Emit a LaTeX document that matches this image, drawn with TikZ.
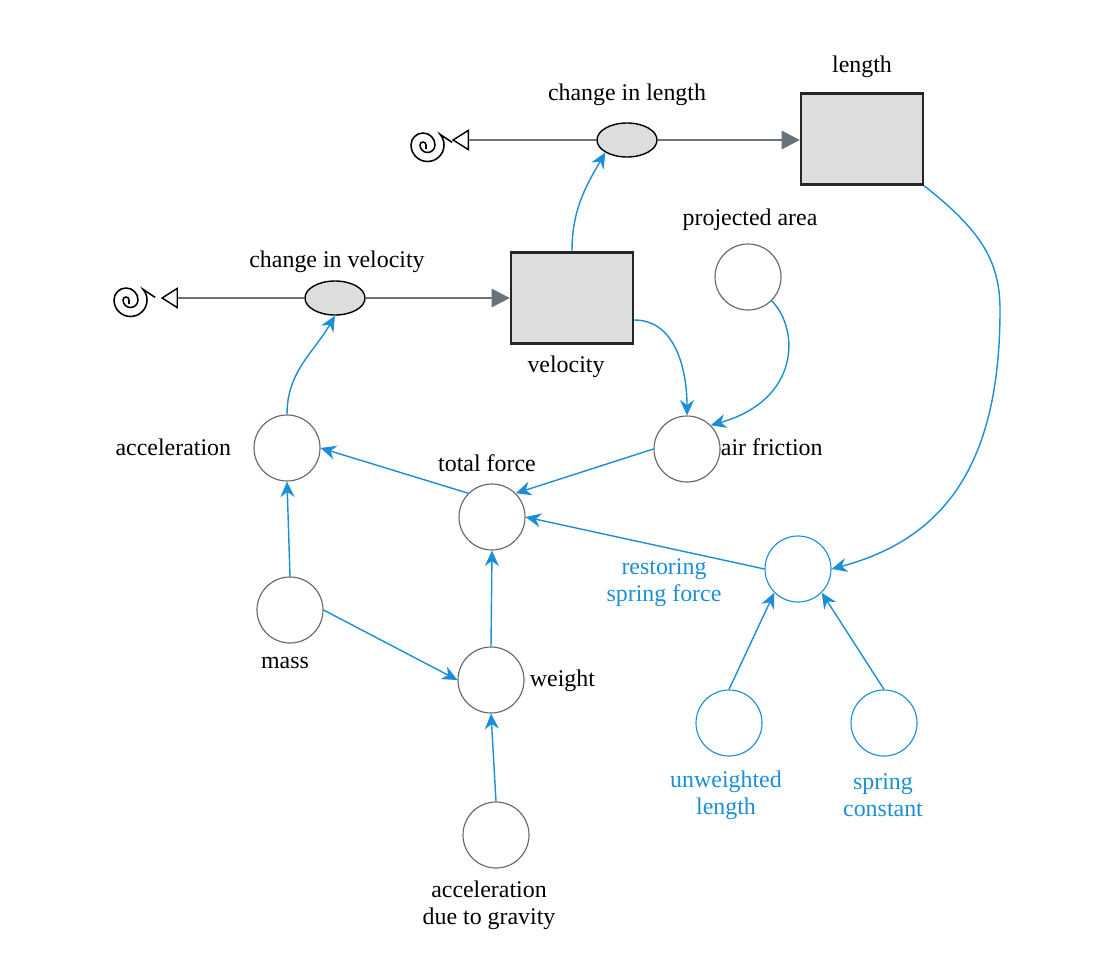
\documentclass[tikz,border=0pt]{standalone}
\usepackage{fontspec}
\setmainfont{Liberation Serif}
\usetikzlibrary{arrows.meta,shapes.geometric}
\definecolor{lnk}{HTML}{1A8FD8}
\definecolor{flw}{HTML}{6A737B}
\definecolor{stk}{HTML}{DCDEDD}
\begin{document}
\begin{tikzpicture}[x=0.025cm,y=-0.025cm,
  font=\fontsize{17}{19}\selectfont,
  aux/.style={circle,draw=black!60,line width=0.8pt,minimum size=1.65cm,inner sep=0pt},
  bux/.style={aux,draw=lnk},
  stock/.style={rectangle,draw=black!85,line width=1.6pt,fill=stk,minimum width=3.05cm,minimum height=2.28cm},
  rate/.style={ellipse,draw=black,line width=1pt,fill=stk,minimum width=1.5cm,minimum height=0.85cm,inner sep=0pt},
  flow/.style={draw=flw,line width=1.8pt},
  src/.style={isosceles triangle,shape border rotate=180,draw=black,line width=1pt,fill=white,minimum height=0.38cm,minimum width=0.48cm,inner sep=0pt,isosceles triangle stretches},
  link/.style={draw=lnk,line width=1pt,-{Stealth[length=11pt,width=10pt]}},
  blab/.style={text=lnk,align=center}]
\useasboundingbox (0,0) rectangle (1102,965);
% stocks and rates
\node[stock] (len) at (862,139) {};
\node at (862,67) {length};
\node[stock] (vel) at (572,298) {};
\node at (566,367) {velocity};
\node[rate] (dl) at (627,140) {};
\node at (627,95) {change in length};
\node[rate] (dv) at (335,298) {};
\node at (337,262) {change in velocity};
% clouds (spirals)
\foreach \cx/\cy in {423/146,126/301}{
  \begin{scope}[shift={(\cx,\cy)},yscale=-1]
    \draw[line width=1.1pt] (3,-3) -- (3,1) arc[start angle=0,end angle=180,radius=3]
       arc[start angle=180,end angle=360,radius=7.5] arc[start angle=0,end angle=180,radius=12]
       arc[start angle=180,end angle=400,radius=16.5] -- ++(12,-8);
  \end{scope}
}
\node[src] (t1) at (463,140) {};
\node[src] (t2) at (172,298) {};
\draw[flow] (t1.east) -- (dl);
\draw[flow,-{Triangle[length=13pt,width=13pt]}] (dl) -- (len.west |- dl);
\draw[flow] (t2.east) -- (dv);
\draw[flow,-{Triangle[length=13pt,width=13pt]}] (dv) -- (vel.west |- dv);
% auxiliaries
\node[aux] (pa) at (748,277) {};
\node at (750,220) {projected area};
\node[aux] (af) at (687,449) {};
\node[anchor=west] at (716,447) {air friction};
\node[aux] (acc) at (287,448) {};
\node[anchor=east] at (236,447) {acceleration};
\node[aux] (tf) at (492,517) {};
\node at (487,463) {total force};
\node[bux] (rs) at (798,569) {};
\node[blab] at (664,583) {restoring\\spring force};
\node[aux] (mass) at (290,610) {};
\node at (285,663) {mass};
\node[aux] (w) at (491,680) {};
\node[anchor=west] at (525,681) {weight};
\node[aux] (g) at (496,835) {};
\node[align=center] at (489,905) {acceleration\\due to gravity};
\node[bux] (ul) at (729,723) {};
\node[blab] at (726,795) {unweighted\\length};
\node[bux] (sc) at (884,723) {};
\node[blab] at (883,795) {spring\\constant};
% links
\draw[link] (vel.north) to[out=90,in=240] (dl.south west);
\draw[link] (len.south east) .. controls (980,230) and (1000,260) .. (1000,310) .. controls (1000,470) and (940,540) .. (rs.east);
\draw[link] (vel.east |- 0,320) to[out=0,in=90] (af.north);
\draw[link] (pa.south east) .. controls (800,330) and (800,400) .. (af.north east);
\draw[link] (af.west) -- (tf.north east);
\draw[link] (tf.north west) -- (acc.east);
\draw[link] (acc.north) to[out=90,in=240] (dv.south);
\draw[link] (rs.west) -- (tf.east);
\draw[link] (mass.north) -- (acc.south);
\draw[link] (mass.east) -- (w.west);
\draw[link] (w.north) -- (tf.south);
\draw[link] (g.north) -- (w.south);
\draw[link] (ul.north) -- (rs.south west);
\draw[link] (sc.north) -- (rs.south east);
\end{tikzpicture}
\end{document}
